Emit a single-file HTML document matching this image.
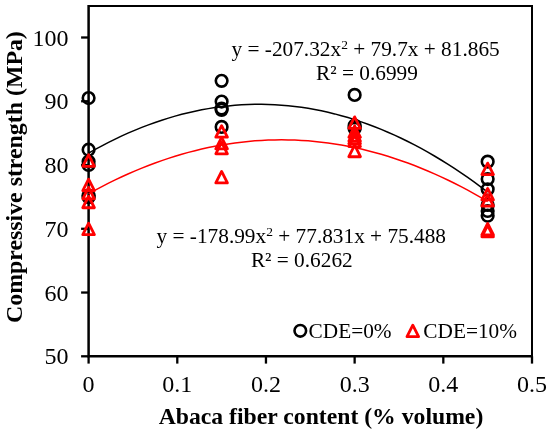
<!DOCTYPE html>
<html><head><meta charset="utf-8"><title>Chart</title>
<style>html,body{margin:0;padding:0;background:#fff}</style></head>
<body>
<svg width="550" height="434" viewBox="0 0 550 434" style="display:block">
<rect width="550" height="434" fill="#fff"/>
<g stroke="#000" fill="none">
<path d="M88.60 5.90 H532.00 V356.30" stroke-width="2"/>
<path d="M88.60 4.90 V356.30 H533.00" stroke-width="2.5"/>
<path d="M81.10 356.30 H88.60" stroke-width="2.3"/>
<path d="M81.10 292.54 H88.60" stroke-width="2.3"/>
<path d="M81.10 228.78 H88.60" stroke-width="2.3"/>
<path d="M81.10 165.02 H88.60" stroke-width="2.3"/>
<path d="M81.10 101.26 H88.60" stroke-width="2.3"/>
<path d="M81.10 37.50 H88.60" stroke-width="2.3"/>
<path d="M88.60 356.30 V363.60" stroke-width="2.3"/>
<path d="M177.28 356.30 V363.60" stroke-width="2.3"/>
<path d="M265.96 356.30 V363.60" stroke-width="2.3"/>
<path d="M354.64 356.30 V363.60" stroke-width="2.3"/>
<path d="M443.32 356.30 V363.60" stroke-width="2.3"/>
<path d="M532.00 356.30 V363.60" stroke-width="2.3"/>
</g>
<polyline points="88.60,153.13 95.25,149.39 101.90,145.80 108.55,142.36 115.20,139.07 121.85,135.93 128.51,132.94 135.16,130.09 141.81,127.40 148.46,124.85 155.11,122.45 161.76,120.20 168.41,118.10 175.06,116.15 181.71,114.34 188.37,112.69 195.02,111.18 201.67,109.83 208.32,108.62 214.97,107.56 221.62,106.65 228.27,105.88 234.92,105.27 241.57,104.80 248.22,104.49 254.87,104.32 261.53,104.30 268.18,104.43 274.83,104.71 281.48,105.14 288.13,105.71 294.78,106.44 301.43,107.31 308.08,108.33 314.73,109.50 321.38,110.82 328.04,112.29 334.69,113.90 341.34,115.67 347.99,117.58 354.64,119.65 361.29,121.86 367.94,124.22 374.59,126.73 381.24,129.39 387.89,132.19 394.55,135.15 401.20,138.25 407.85,141.50 414.50,144.90 421.15,148.45 427.80,152.15 434.45,156.00 441.10,160.00 447.75,164.14 454.40,168.43 461.06,172.88 467.71,177.47 474.36,182.21 481.01,187.10 487.66,192.13" fill="none" stroke="#000" stroke-width="1.5"/>
<polyline points="88.60,193.79 95.25,190.13 101.90,186.60 108.55,183.20 115.20,179.93 121.85,176.78 128.51,173.77 135.16,170.88 141.81,168.12 148.46,165.49 155.11,162.99 161.76,160.62 168.41,158.37 175.06,156.25 181.71,154.26 188.37,152.40 195.02,150.67 201.67,149.07 208.32,147.59 214.97,146.25 221.62,145.03 228.27,143.94 234.92,142.98 241.57,142.14 248.22,141.44 254.87,140.86 261.53,140.42 268.18,140.10 274.83,139.90 281.48,139.84 288.13,139.91 294.78,140.10 301.43,140.42 308.08,140.87 314.73,141.45 321.38,142.16 328.04,143.00 334.69,143.96 341.34,145.05 347.99,146.28 354.64,147.62 361.29,149.10 367.94,150.71 374.59,152.44 381.24,154.31 387.89,156.30 394.55,158.42 401.20,160.67 407.85,163.04 414.50,165.55 421.15,168.18 427.80,170.94 434.45,173.83 441.10,176.85 447.75,180.00 454.40,183.27 461.06,186.68 467.71,190.21 474.36,193.87 481.01,197.66 487.66,201.58" fill="none" stroke="#f00" stroke-width="1.5"/>
<circle cx="88.60" cy="98.07" r="5.8" fill="none" stroke="#000" stroke-width="2.6"/>
<circle cx="88.60" cy="149.72" r="5.8" fill="none" stroke="#000" stroke-width="2.6"/>
<circle cx="88.60" cy="161.51" r="5.8" fill="none" stroke="#000" stroke-width="2.6"/>
<circle cx="88.60" cy="165.02" r="5.8" fill="none" stroke="#000" stroke-width="2.6"/>
<circle cx="88.60" cy="195.62" r="5.8" fill="none" stroke="#000" stroke-width="2.6"/>
<circle cx="88.60" cy="197.22" r="5.8" fill="none" stroke="#000" stroke-width="2.6"/>
<circle cx="221.62" cy="80.86" r="5.8" fill="none" stroke="#000" stroke-width="2.6"/>
<circle cx="221.62" cy="101.58" r="5.8" fill="none" stroke="#000" stroke-width="2.6"/>
<circle cx="221.62" cy="108.59" r="5.8" fill="none" stroke="#000" stroke-width="2.6"/>
<circle cx="221.62" cy="109.87" r="5.8" fill="none" stroke="#000" stroke-width="2.6"/>
<circle cx="221.62" cy="126.89" r="5.8" fill="none" stroke="#000" stroke-width="2.6"/>
<circle cx="354.64" cy="94.88" r="5.8" fill="none" stroke="#000" stroke-width="2.6"/>
<circle cx="354.64" cy="125.49" r="5.8" fill="none" stroke="#000" stroke-width="2.6"/>
<circle cx="354.64" cy="127.08" r="5.8" fill="none" stroke="#000" stroke-width="2.6"/>
<circle cx="354.64" cy="128.68" r="5.8" fill="none" stroke="#000" stroke-width="2.6"/>
<circle cx="487.66" cy="161.64" r="5.8" fill="none" stroke="#000" stroke-width="2.6"/>
<circle cx="487.66" cy="179.05" r="5.8" fill="none" stroke="#000" stroke-width="2.6"/>
<circle cx="487.66" cy="189.25" r="5.8" fill="none" stroke="#000" stroke-width="2.6"/>
<circle cx="487.66" cy="204.90" r="5.8" fill="none" stroke="#000" stroke-width="2.6"/>
<circle cx="487.66" cy="211.00" r="5.8" fill="none" stroke="#000" stroke-width="2.6"/>
<circle cx="487.66" cy="215.70" r="5.8" fill="none" stroke="#000" stroke-width="2.6"/>
<path d="M88.60 154.81 L94.40 166.31 L82.80 166.31 Z" fill="none" stroke="#f00" stroke-width="2.8" stroke-linejoin="round"/>
<path d="M88.60 179.23 L94.40 190.73 L82.80 190.73 Z" fill="none" stroke="#f00" stroke-width="2.8" stroke-linejoin="round"/>
<path d="M88.60 187.32 L94.40 198.82 L82.80 198.82 Z" fill="none" stroke="#f00" stroke-width="2.8" stroke-linejoin="round"/>
<path d="M88.60 196.25 L94.40 207.75 L82.80 207.75 Z" fill="none" stroke="#f00" stroke-width="2.8" stroke-linejoin="round"/>
<path d="M88.60 223.22 L94.40 234.72 L82.80 234.72 Z" fill="none" stroke="#f00" stroke-width="2.8" stroke-linejoin="round"/>
<path d="M221.62 125.67 L227.42 137.17 L215.82 137.17 Z" fill="none" stroke="#f00" stroke-width="2.8" stroke-linejoin="round"/>
<path d="M221.62 137.46 L227.42 148.96 L215.82 148.96 Z" fill="none" stroke="#f00" stroke-width="2.8" stroke-linejoin="round"/>
<path d="M221.62 142.37 L227.42 153.87 L215.82 153.87 Z" fill="none" stroke="#f00" stroke-width="2.8" stroke-linejoin="round"/>
<path d="M221.62 171.38 L227.42 182.88 L215.82 182.88 Z" fill="none" stroke="#f00" stroke-width="2.8" stroke-linejoin="round"/>
<path d="M354.64 116.87 L360.44 128.37 L348.84 128.37 Z" fill="none" stroke="#f00" stroke-width="2.8" stroke-linejoin="round"/>
<path d="M354.64 125.80 L360.44 137.30 L348.84 137.30 Z" fill="none" stroke="#f00" stroke-width="2.8" stroke-linejoin="round"/>
<path d="M354.64 129.62 L360.44 141.12 L348.84 141.12 Z" fill="none" stroke="#f00" stroke-width="2.8" stroke-linejoin="round"/>
<path d="M354.64 132.17 L360.44 143.67 L348.84 143.67 Z" fill="none" stroke="#f00" stroke-width="2.8" stroke-linejoin="round"/>
<path d="M354.64 135.04 L360.44 146.54 L348.84 146.54 Z" fill="none" stroke="#f00" stroke-width="2.8" stroke-linejoin="round"/>
<path d="M354.64 145.24 L360.44 156.74 L348.84 156.74 Z" fill="none" stroke="#f00" stroke-width="2.8" stroke-linejoin="round"/>
<path d="M487.66 163.10 L493.46 174.60 L481.86 174.60 Z" fill="none" stroke="#f00" stroke-width="2.8" stroke-linejoin="round"/>
<path d="M487.66 188.47 L493.46 199.97 L481.86 199.97 Z" fill="none" stroke="#f00" stroke-width="2.8" stroke-linejoin="round"/>
<path d="M487.66 194.66 L493.46 206.16 L481.86 206.16 Z" fill="none" stroke="#f00" stroke-width="2.8" stroke-linejoin="round"/>
<path d="M487.66 223.48 L493.46 234.98 L481.86 234.98 Z" fill="none" stroke="#f00" stroke-width="2.8" stroke-linejoin="round"/>
<path d="M487.66 225.33 L493.46 236.83 L481.86 236.83 Z" fill="none" stroke="#f00" stroke-width="2.8" stroke-linejoin="round"/>
<g font-family="'Liberation Serif', 'Times New Roman', serif" fill="#000">
<text x="68.6" y="364.30" font-size="24" text-anchor="end">50</text>
<text x="68.6" y="300.54" font-size="24" text-anchor="end">60</text>
<text x="68.6" y="236.78" font-size="24" text-anchor="end">70</text>
<text x="68.6" y="173.02" font-size="24" text-anchor="end">80</text>
<text x="68.6" y="109.26" font-size="24" text-anchor="end">90</text>
<text x="68.6" y="45.50" font-size="24" text-anchor="end">100</text>
<text x="88.60" y="392" font-size="24" text-anchor="middle">0</text>
<text x="177.28" y="392" font-size="24" text-anchor="middle">0.1</text>
<text x="265.96" y="392" font-size="24" text-anchor="middle">0.2</text>
<text x="354.64" y="392" font-size="24" text-anchor="middle">0.3</text>
<text x="443.32" y="392" font-size="24" text-anchor="middle">0.4</text>
<text x="532.00" y="392" font-size="24" text-anchor="middle">0.5</text>
<text x="321" y="423.8" font-size="23.7" font-weight="bold" text-anchor="middle">Abaca fiber content (% volume)</text>
<text transform="translate(21.8,177.1) rotate(-90)" font-size="23.85" font-weight="bold" text-anchor="middle">Compressive strength (MPa)</text>
<text x="365.6" y="55.6" font-size="21.3" text-anchor="middle">y = -207.32x<tspan font-size="13.5" dy="-6.5">2</tspan><tspan dy="6.5"> + 79.7x + 81.865</tspan></text>
<text x="367" y="80.2" font-size="21.3" text-anchor="middle">R² = 0.6999</text>
<text x="301.3" y="242.5" font-size="21.3" text-anchor="middle">y = -178.99x<tspan font-size="13.5" dy="-6.5">2</tspan><tspan dy="6.5"> + 77.831x + 75.488</tspan></text>
<text x="301.8" y="267" font-size="21.3" text-anchor="middle">R² = 0.6262</text>
<text x="308.6" y="337.6" font-size="21.3">CDE=0%</text>
<text x="423.3" y="337.6" font-size="21.3">CDE=10%</text>
</g>
<circle cx="300.30" cy="330.80" r="5.8" fill="none" stroke="#000" stroke-width="2.6"/>
<path d="M412.80 325.15 L418.60 336.65 L407.00 336.65 Z" fill="none" stroke="#f00" stroke-width="2.8" stroke-linejoin="round"/>
</svg>
</body></html>
